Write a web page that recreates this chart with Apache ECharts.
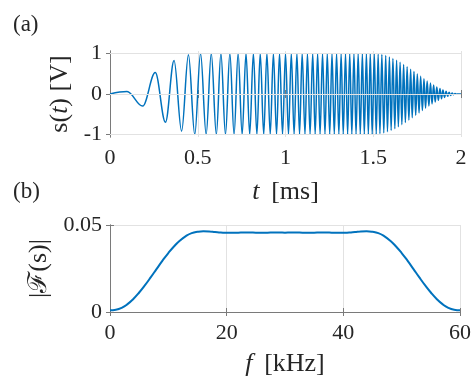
<!DOCTYPE html>
<html><head><meta charset="utf-8">
<script src="https://cdn.jsdelivr.net/npm/echarts@6/dist/echarts.min.js"></script>
<style>html,body{margin:0;padding:0;background:#fff}#c{width:474px;height:384px}</style>
</head><body><div id="c"></div>
<script>
// ---- panel (a): extrema of the chirp s(t) ----
const tExtrema = [0, 0.097, 0.186, 0.258, 0.316, 0.365, 0.408, 0.447, 0.483, 0.516,
  0.548, 0.577, 0.606, 0.632, 0.658, 0.683, 0.707, 0.730, 0.753, 0.775,
  0.796, 0.817, 0.837, 0.856, 0.876, 0.894, 0.913, 0.931, 0.949, 0.966,
  0.983, 1.000, 1.017, 1.033, 1.049, 1.065, 1.080, 1.095, 1.111, 1.125,
  1.140, 1.155, 1.169, 1.183, 1.197, 1.211, 1.225, 1.238, 1.252, 1.265,
  1.278, 1.291, 1.304, 1.317, 1.329, 1.342, 1.354, 1.366, 1.378, 1.390,
  1.402, 1.414, 1.426, 1.438, 1.449, 1.461, 1.472, 1.483, 1.494, 1.506,
  1.517, 1.528, 1.538, 1.549, 1.560, 1.571, 1.581, 1.592, 1.602, 1.612,
  1.623, 1.633, 1.643, 1.653, 1.663, 1.673, 1.683, 1.693, 1.703, 1.713,
  1.722, 1.732, 1.742, 1.751, 1.761, 1.770, 1.780, 1.789, 1.798, 1.807,
  1.817, 1.826, 1.835, 1.844, 1.853, 1.862, 1.871, 1.880, 1.889, 1.897,
  1.906, 1.915, 1.924, 1.932, 1.941, 1.949, 1.958, 1.966, 1.975, 1.983,
  1.992, 2.000];
const sExtrema = [0, 0.06, -0.30, 0.53, -0.70, 0.83, -0.92, 0.97, -1, 1,
  -1, 1, -1, 1, -1, 1, -1, 1, -1, 1,
  -1, 1, -1, 1, -1, 1, -1, 1, -1, 1,
  -1, 1, -1, 1, -1, 1, -1, 1, -1, 1,
  -1, 1, -1, 1, -1, 1, -1, 1, -1, 1,
  -1, 1, -1, 1, -1, 1, -1, 1, -1, 1,
  -1, 1, -1, 1, -1, 1, -1, 1, -1, 1.00,
  -0.997, 0.993, -0.986, 0.976, -0.965, 0.952, -0.936, 0.919, -0.901, 0.880,
  -0.859, 0.835, -0.811, 0.786, -0.759, 0.731, -0.704, 0.675, -0.646, 0.616,
  -0.586, 0.556, -0.526, 0.496, -0.467, 0.437, -0.408, 0.379, -0.351, 0.324,
  -0.297, 0.271, -0.246, 0.222, -0.199, 0.176, -0.155, 0.136, -0.117, 0.100,
  -0.085, 0.070, -0.057, 0.046, -0.035, 0.025, -0.017, 0.010, -0.006, 0.003,
  -0.001, 0];
const tTicks = [0, 0.5, 1, 1.5, 2];
const sTicks = [-1, 0, 1];

// ---- panel (b): spectrum magnitude ----
const freqKHz = [0,1,2,3,4,5,6,7,8,9,10,11,12,13,14,15,16,17,18,19,20,
  21,22,23,24,25,26,27,28,29,30,31,32,33,34,35,36,37,38,39,40,
  41,42,43,44,45,46,47,48,49,50,51,52,53,54,55,56,57,58,59,60];
const specMag = [0.0010,0.0013,0.0024,0.0045,0.0075,0.0112,0.0154,0.0200,0.0248,0.0295,0.0339,
  0.0378,0.0411,0.0436,0.0453,0.0461,0.0464,0.0463,0.0460,0.0457,0.0455,
  0.0455,0.0456,0.0457,0.0457,0.0456,0.0456,0.0456,0.0457,0.0457,0.0456,
  0.0457,0.0457,0.0456,0.0456,0.0456,0.0457,0.0457,0.0456,0.0455,0.0455,
  0.0457,0.0460,0.0463,0.0464,0.0461,0.0453,0.0436,0.0411,0.0378,0.0339,
  0.0295,0.0248,0.0200,0.0154,0.0112,0.0075,0.0045,0.0024,0.0013,0.0010];
const fTicks = [0, 20, 40, 60];
const magTicks = [0, 0.05];

const FONT = "'Liberation Serif', 'DejaVu Serif', serif";
const TXT = '#262626';
const BOX = '#7a7a7a';
const GRIDC = '#e2e2e2';
const BLUE = '#0072BD';
const tickFs = 22, nameFs = 26;

const nameStyle = {fontFamily: FONT, fontSize: nameFs, color: TXT,
  rich: {i: {fontFamily: FONT, fontSize: nameFs, color: TXT, fontStyle: 'italic'}}};
const lbl = (margin) => ({fontFamily: FONT, fontSize: tickFs, color: TXT, margin: margin});
const line = {show: true, lineStyle: {color: BOX, width: 1}};
const tick = (extra) => Object.assign({show: true, inside: true, length: 4, lineStyle: {color: BOX, width: 1}}, extra || {});
const panelStyle = {fontFamily: FONT, fontSize: 23, fontWeight: 'normal', color: TXT};

const option = {
  animation: false,
  backgroundColor: '#fff',
  title: [
    {text: '(a)', left: 13, top: 13, padding: 0, textStyle: panelStyle},
    {text: '(b)', left: 13, top: 180, padding: 0, textStyle: panelStyle}
  ],
  grid: [
    {left: 110, right: 13, top: 51, height: 86},
    {left: 110, right: 13, top: 225, height: 87}
  ],
  xAxis: [
    {gridIndex: 0, type: 'value', position: 'bottom', min: tTicks[0], max: tTicks[tTicks.length - 1], interval: 0.5,
     axisLine: line, axisTick: tick(), axisLabel: lbl(10),
     splitLine: {show: true, lineStyle: {color: GRIDC, width: 1}},
     name: '{i|t} \u2009[ms]', nameLocation: 'middle', nameGap: 42, nameTextStyle: nameStyle},
    {gridIndex: 0, type: 'value', position: 'top', min: tTicks[0], max: tTicks[tTicks.length - 1], interval: 0.5,
     axisLine: line, axisTick: tick(), axisLabel: {show: false}, splitLine: {show: false}},
    {gridIndex: 1, type: 'value', position: 'bottom', min: fTicks[0], max: fTicks[fTicks.length - 1], interval: 20,
     axisLine: line, axisTick: tick(), axisLabel: lbl(10),
     splitLine: {show: true, lineStyle: {color: GRIDC, width: 1}},
     name: '{i|f} \u2009[kHz]', nameLocation: 'middle', nameGap: 39, nameTextStyle: nameStyle},
    {gridIndex: 1, type: 'value', position: 'top', min: fTicks[0], max: fTicks[fTicks.length - 1], interval: 20,
     axisLine: line, axisTick: tick(), axisLabel: {show: false}, splitLine: {show: false}}
  ],
  yAxis: [
    {gridIndex: 0, type: 'value', position: 'left', min: -1.065, max: 1.065,
     axisLine: line, axisTick: tick({customValues: sTicks}),
     axisLabel: Object.assign(lbl(8), {customValues: sTicks}),
     splitLine: {show: false},
     name: 's({i|t}) [V]', nameLocation: 'middle', nameRotate: 90, nameGap: 32, nameTextStyle: nameStyle},
    {gridIndex: 0, type: 'value', position: 'right', min: -1.065, max: 1.065,
     axisLine: line, axisTick: tick({customValues: sTicks}),
     axisLabel: {show: false}, splitLine: {show: false}},
    {gridIndex: 1, type: 'value', position: 'left', min: magTicks[0], max: magTicks[1], interval: 0.05,
     axisLine: line, axisTick: tick(), axisLabel: lbl(8),
     splitLine: {show: true, lineStyle: {color: GRIDC, width: 1}},
     name: '|ℱ(s)|', nameLocation: 'middle', nameRotate: 90, nameGap: 55, nameTextStyle: nameStyle},
    {gridIndex: 1, type: 'value', position: 'right', min: magTicks[0], max: magTicks[1], interval: 0.05,
     axisLine: line, axisTick: tick(), axisLabel: {show: false}, splitLine: {show: false}}
  ],
  series: [
    {type: 'line', xAxisIndex: 0, yAxisIndex: 0, data: [], z: 1, silent: true,
     markLine: {silent: true, symbol: ['none', 'none'], label: {show: false}, animation: false,
       lineStyle: {color: GRIDC, type: 'solid', width: 1},
       data: sTicks.map(v => ({yAxis: v}))}},
    {type: 'line', xAxisIndex: 0, yAxisIndex: 0, z: 3,
     data: tExtrema.map((t, i) => [t, sExtrema[i]]),
     showSymbol: false, smooth: 0.36, smoothMonotone: 'x',
     lineStyle: {color: BLUE, width: 1.5}},
    {type: 'line', xAxisIndex: 2, yAxisIndex: 2, z: 3,
     data: freqKHz.map((f, i) => [f, specMag[i]]),
     showSymbol: false, smooth: true,
     lineStyle: {color: BLUE, width: 2}}
  ]
};
const chart = echarts.init(document.getElementById('c'), null, {renderer: 'canvas'});
chart.setOption(option);
</script>
</body></html>
